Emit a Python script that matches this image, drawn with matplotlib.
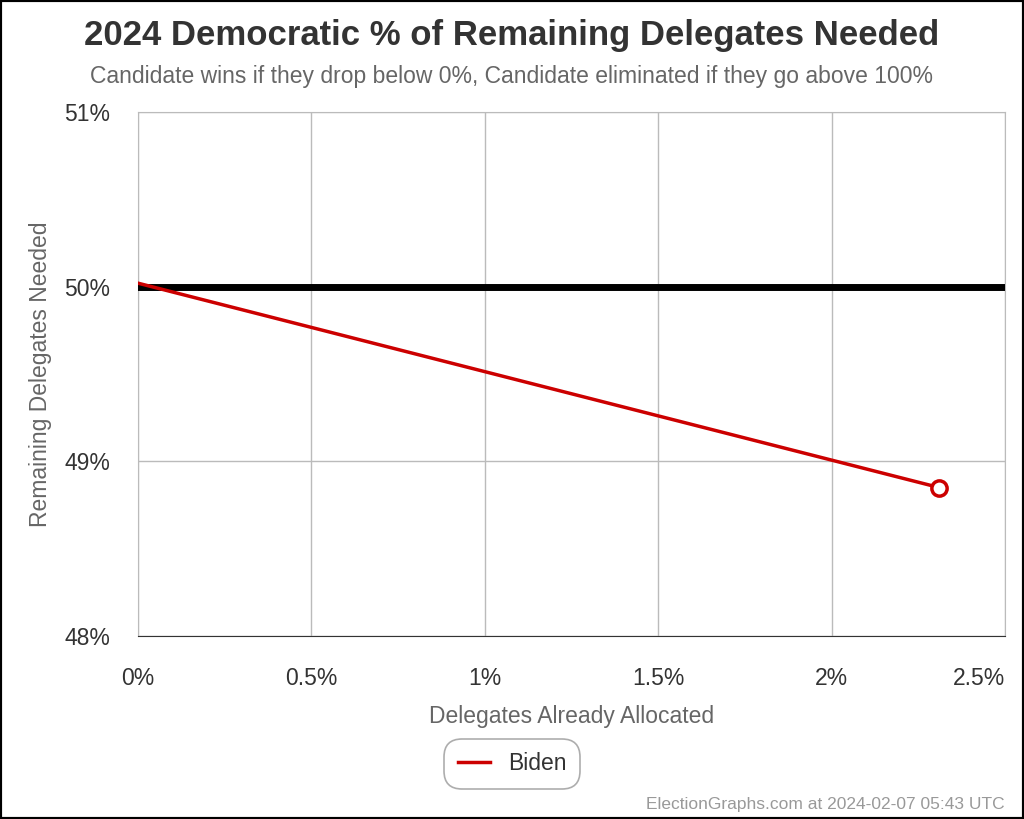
import matplotlib.pyplot as plt
from matplotlib.patches import Rectangle
from matplotlib.ticker import FuncFormatter

plt.rcParams['font.family'] = ['Liberation Sans', 'DejaVu Sans']

# delegates already allocated (%) vs remaining needed (%)
biden_x = [0.0, 2.31]
biden_y = [50.02, 48.85]
threshold = 50.0
x_ticks = [0, 0.5, 1, 1.5, 2, 2.5]
y_ticks = [48, 49, 50, 51]

fig = plt.figure(figsize=(10.24, 8.19), dpi=100)
ax = fig.add_axes([138/1024, 1-636/819, (1005-138)/1024, (636-112)/819])

ax.axhline(threshold, color='black', linewidth=5, zorder=3)
ax.plot(biden_x, biden_y, color='#cc0000', linewidth=2.5, zorder=4, label='Biden')
ax.plot(biden_x[-1:], biden_y[-1:], 'o', markersize=11, markerfacecolor='white',
        markeredgecolor='#cc0000', markeredgewidth=2.5, zorder=5)

ax.set_xlim(0, 2.5)
ax.set_ylim(48, 51)
ax.set_xticks(x_ticks)
ax.set_yticks(y_ticks)
ax.xaxis.set_major_formatter(FuncFormatter(lambda v, p: '%g%%' % v))
ax.yaxis.set_major_formatter(FuncFormatter(lambda v, p: '%g%%' % v))
ax.tick_params(length=0, labelsize=16.5, colors='#333333')
ax.tick_params(axis='x', pad=22)
ax.tick_params(axis='y', pad=20)
ax.grid(True, color='#bbbbbb', linewidth=1)
for s in ['top', 'right', 'left']:
    ax.spines[s].set_color('#bbbbbb')
ax.spines['bottom'].set_color('#333333')

ax.set_xlabel('Delegates Already Allocated', fontsize=16.5, color='#666666', labelpad=11)
ax.set_ylabel('Remaining Delegates Needed', fontsize=16.5, color='#666666', labelpad=9)

fig.canvas.draw()
ax.get_xticklabels()[-1].set_horizontalalignment('right')
ax.get_xticklabels()[-1].set_x(2.5)

fig.text(0.5, 1-35/819, '2024 Democratic % of Remaining Delegates Needed', ha='center', va='center',
         fontsize=25, fontweight='bold', color='#333333')
fig.text(0.5, 1-76/819, 'Candidate wins if they drop below 0%, Candidate eliminated if they go above 100%',
         ha='center', va='center', fontsize=16.5, color='#666666')
fig.text(1005/1024, 1-804/819, 'ElectionGraphs.com at 2024-02-07 05:43 UTC', ha='right', va='center',
         fontsize=12.5, color='#999999')

leg = fig.legend(loc='center', bbox_to_anchor=(512/1024, 1-764/819), fontsize=16.5, frameon=True,
                 fancybox=True, edgecolor='#999999', handlelength=1.4, borderpad=0.6,
                 labelcolor='#333333')
leg.get_frame().set_linewidth(1.2)
leg.get_frame().set_boxstyle('round', pad=0, rounding_size=0.8)

fig.patches.append(Rectangle((0, 0), 1, 1, transform=fig.transFigure, fill=False,
                             edgecolor='black', linewidth=3))

fig.savefig('out.png', dpi=100)
